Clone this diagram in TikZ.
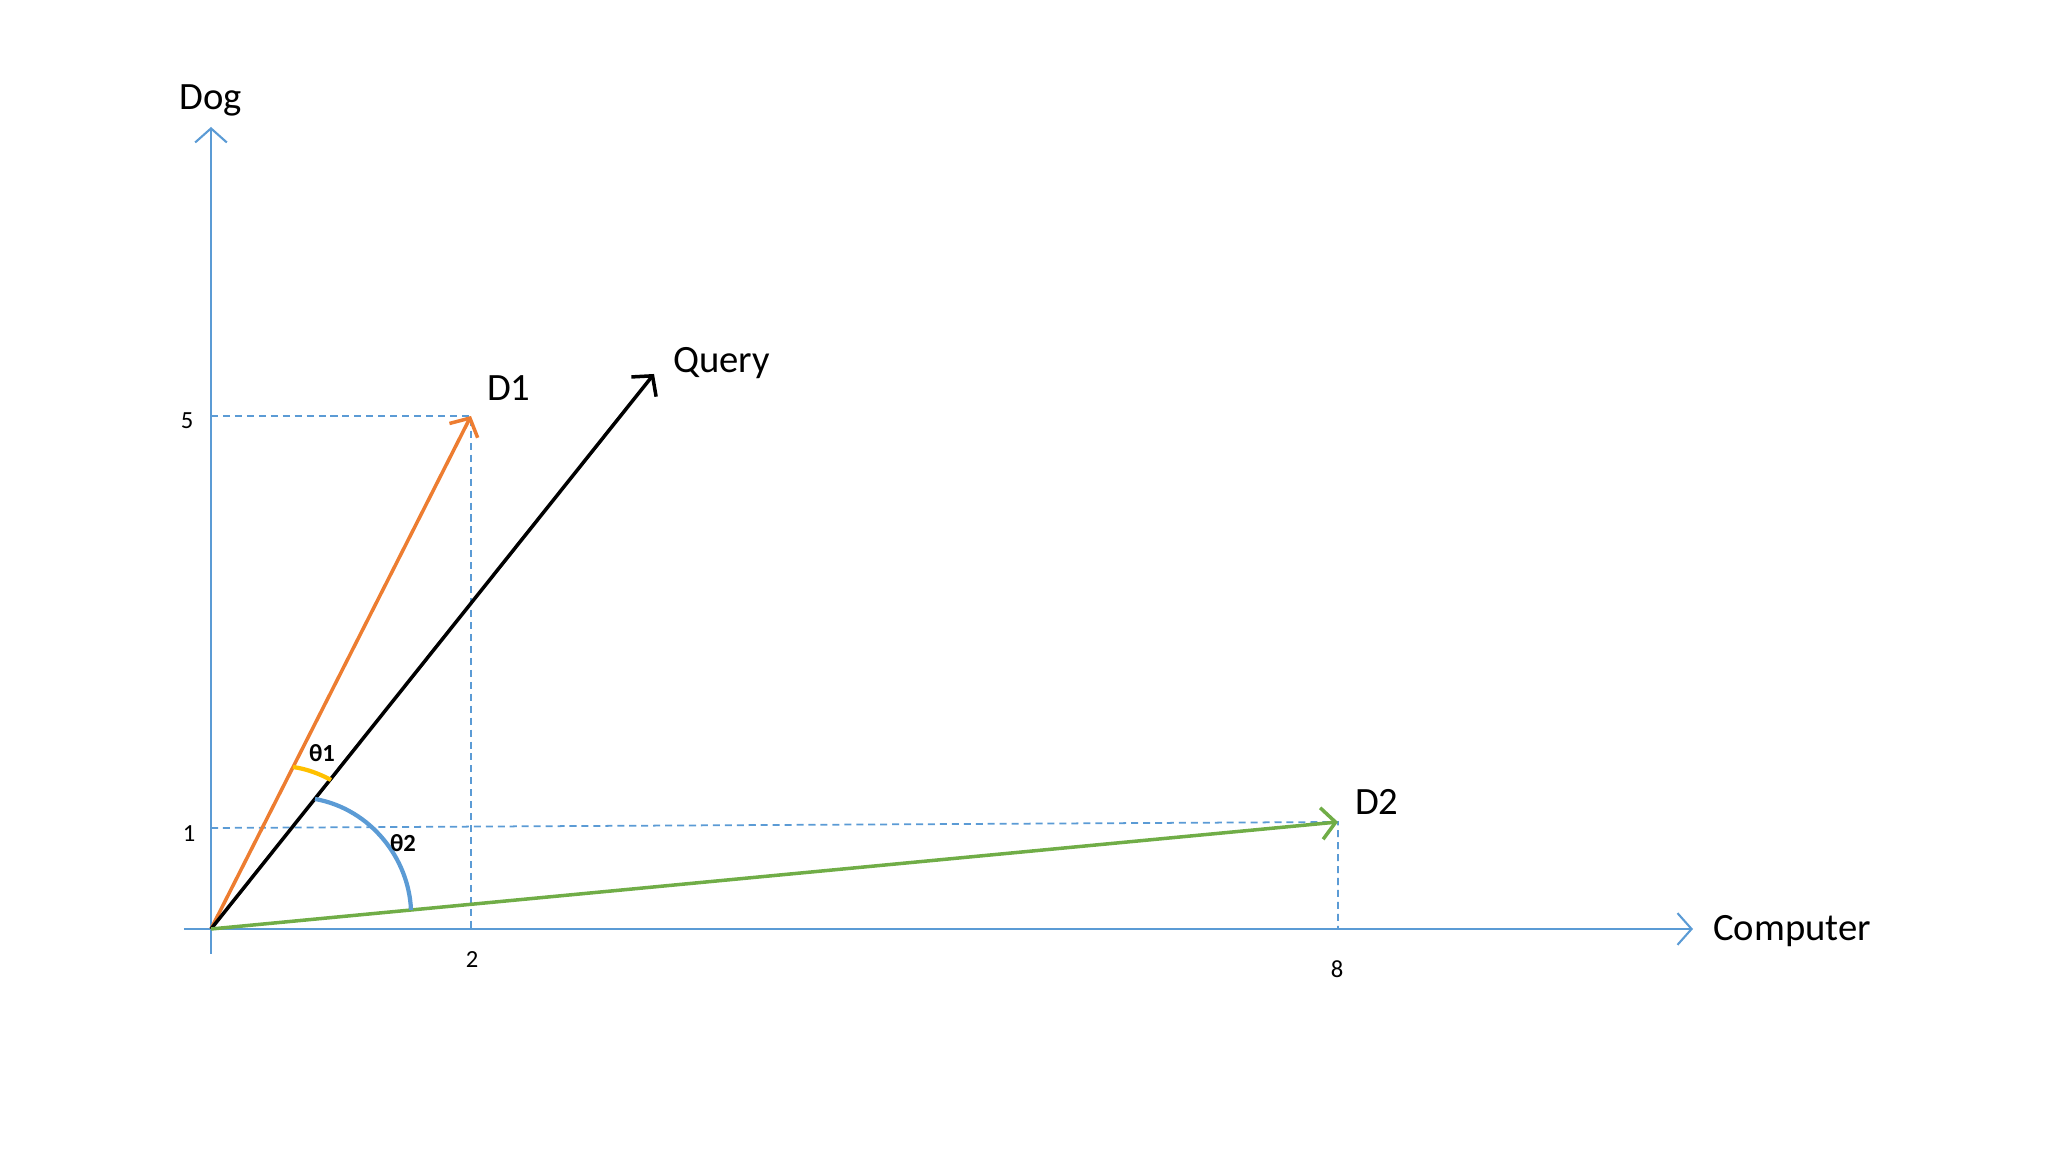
\documentclass[tikz,border=0pt]{standalone}
\usepackage{fontspec}
\setmainfont{Carlito}
\usepackage{tikz}
\usetikzlibrary{arrows.meta,positioning}
\definecolor{axisblue}{HTML}{5B9BD5}
\definecolor{docorange}{HTML}{ED7D31}
\definecolor{docgreen}{HTML}{70AD47}
\definecolor{angleyellow}{HTML}{FFC000}
\tikzset{
  axis/.style={axisblue, line width=0.6pt, -{Straight Barb[length=4pt,width=9pt]}},
  vec/.style={line width=1pt, -{Straight Barb[length=4pt,width=9pt]}},
  guide/.style={axisblue, line width=0.5pt, dash pattern=on 2pt off 1.4pt},
  axlabel/.style={font=\fontsize{11}{13}\selectfont, inner sep=1pt},
  ticklabel/.style={font=\fontsize{7}{8}\selectfont, inner sep=1pt},
  anglabel/.style={font=\fontsize{7}{8}\selectfont\bfseries, inner sep=1pt}
}
\begin{document}
\begin{tikzpicture}
\useasboundingbox (-2.11,-2.23) rectangle (18.37,9.29);

\coordinate (O) at (0,0);
\coordinate (ybot) at (0,-0.25);
\coordinate (ytop) at (0,8.02);
\coordinate (xleft) at (-0.27,0);
\coordinate (xright) at (14.82,0);
\coordinate (d1) at (2.60,5.13);
\coordinate (q) at (4.43,5.55);
\coordinate (d2) at (11.27,1.07);
\coordinate (y5) at (0,5.13);
\coordinate (y1) at (0,1.01);
\coordinate (x2) at (2.60,0);
\coordinate (x8) at (11.27,0);

\draw[guide] (y5) -- (d1) -- (x2);
\draw[guide] (y1) -- (d2) -- (x8);

\draw[axis] (ybot) -- (ytop);
\draw[axis] (xleft) -- (xright);

\draw[vec, docorange] (O) -- (d1);
\draw[vec, black] (O) -- (q);
\draw[vec, docgreen] (O) -- (d2);

\draw[angleyellow, line width=1.2pt] (0.82,1.62) .. controls (0.96,1.60) and (1.09,1.55) .. (1.20,1.49);
\draw[axisblue, line width=1.2pt] (1.04,1.30) .. controls (1.60,1.20) and (1.98,0.70) .. (2.00,0.19);

\node[axlabel, above=0.07 of ytop] (dog) {Dog};
\node[axlabel, anchor=west] (computer) at (14.98,-0.02) {Computer};
\node[axlabel, anchor=south west] (d1lab) at (2.72,5.24) {D1};
\node[axlabel, anchor=south west] (qlab) at (4.58,5.46) {Query};
\node[axlabel, anchor=south west] (d2lab) at (11.40,1.10) {D2};

\node[ticklabel] (t5) at (-0.24,5.08) {5};
\node[ticklabel] (t1) at (-0.22,0.95) {1};
\node[ticklabel] (t2) at (2.61,-0.31) {2};
\node[ticklabel] (t8) at (11.26,-0.40) {8};

\node[anglabel] (th1) at (1.11,1.76) {θ1};
\node[anglabel] (th2) at (1.92,0.86) {θ2};
\end{tikzpicture}
\end{document}
